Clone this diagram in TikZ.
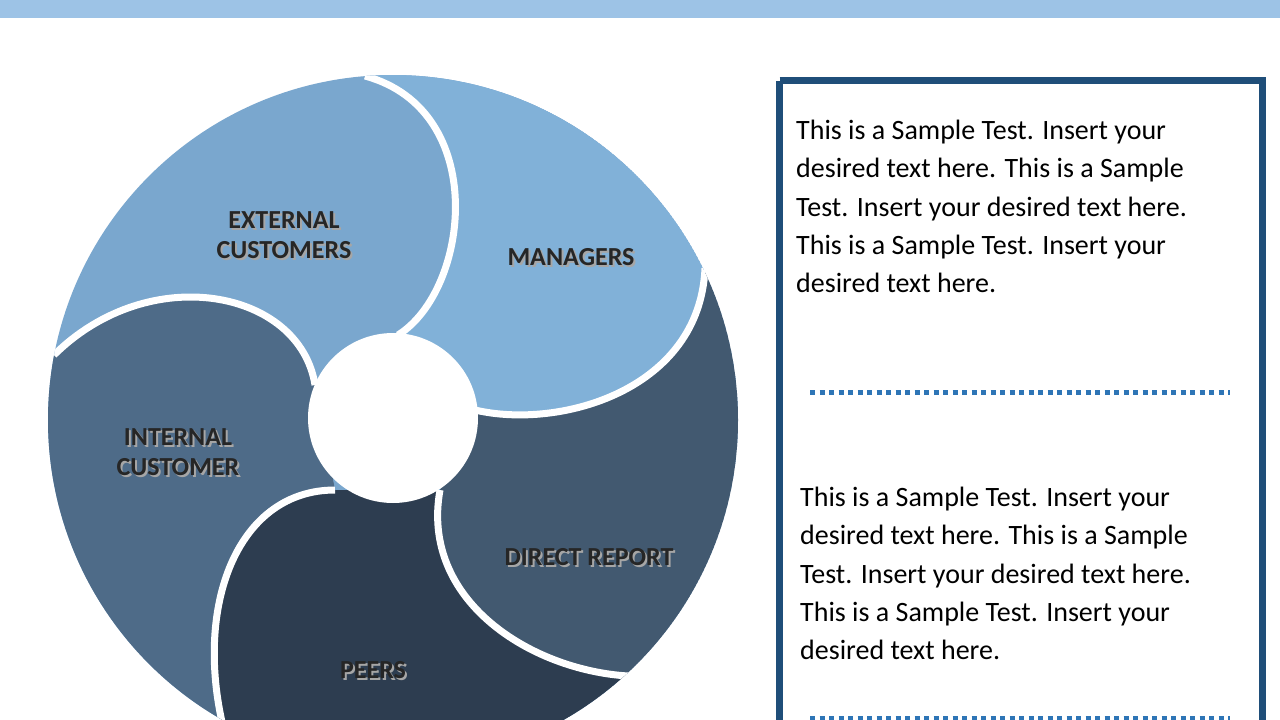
\documentclass[tikz,border=0pt]{standalone}
\usepackage{fontspec}
\setmainfont{Carlito}
\begin{document}
\begin{tikzpicture}[x=1pt,y=-1pt,
  lbl/.style={font=\bfseries\fontsize{26}{30}\selectfont,align=center,text=black!85},
  shd/.style={font=\bfseries\fontsize{26}{30}\selectfont,align=center,text=black!35},
  body/.style={font=\fontsize{28}{38.3}\selectfont,align=left,anchor=north west,inner sep=0pt,text=black},
  sep/.style={draw=dotblue,line width=5pt,dash pattern=on 5pt off 4.5pt}]
\definecolor{topbar}{RGB}{157,195,230}
\definecolor{cExt}{RGB}{122,167,206}
\definecolor{cMan}{RGB}{129,177,216}
\definecolor{cDir}{RGB}{66,89,112}
\definecolor{cPeer}{RGB}{45,61,80}
\definecolor{cInt}{RGB}{78,107,136}
\definecolor{frame}{RGB}{31,78,121}
\definecolor{dotblue}{RGB}{46,117,182}
\useasboundingbox (0,0) rectangle (1280,720);
\fill[white] (0,0) rectangle (1280,720);
\fill[topbar] (0,0) rectangle (1280,18);
% pinwheel
\begin{scope}
\clip (393,420) circle (345);
\fill[cExt] (393,420) circle (345);
% Managers: curve1 then curve2 reversed
\fill[cMan] (398,335) .. controls (470,290) and (490,110) .. (365,76)
  -- (600,-100) -- (900,100) -- (705,268)
  .. controls (700,390) and (560,430) .. (475,410) -- cycle;
% Direct report: curve2 then curve3 reversed
\fill[cDir] (475,410) .. controls (560,430) and (700,390) .. (705,268)
  -- (900,100) -- (1000,800) -- (628,676)
  .. controls (530,670) and (420,600) .. (440,490) -- cycle;
% Peers: curve3 then curve4 reversed
\fill[cPeer] (440,490) .. controls (420,600) and (530,670) .. (628,676)
  -- (1000,800) -- (200,900) -- (222,722)
  .. controls (195,600) and (240,490) .. (335,490) -- cycle;
% Internal: curve4 then curve5 reversed
\fill[cInt] (335,490) .. controls (240,490) and (195,600) .. (222,722)
  -- (200,900) -- (-100,700) -- (54,355)
  .. controls (150,260) and (300,290) .. (315,385) -- cycle;
\begin{scope}[draw=white,line width=7pt]
\draw (398,335) .. controls (470,290) and (490,110) .. (365,76);
\draw (475,410) .. controls (560,430) and (700,390) .. (705,268);
\draw (440,490) .. controls (420,600) and (530,670) .. (628,676);
\draw (335,490) .. controls (240,490) and (195,600) .. (222,722);
\draw (315,385) .. controls (300,290) and (150,260) .. (54,355);
\end{scope}
\end{scope}
\fill[white] (393,418) circle (85);
% labels
\node[shd] at (286,237) {EXTERNAL\\CUSTOMERS};
\node[lbl] (ext) at (284,235) {EXTERNAL\\CUSTOMERS};
\node[shd] at (573,259) {MANAGERS};
\node[lbl] (man) at (571,257) {MANAGERS};
\node[shd] at (180,454) {INTERNAL\\CUSTOMER};
\node[lbl] (int) at (178,452) {INTERNAL\\CUSTOMER};
\node[shd] at (591,559) {DIRECT REPORT};
\node[lbl] (dir) at (589,557) {DIRECT REPORT};
\node[shd] at (375,672) {PEERS};
\node[lbl] (peer) at (373,670) {PEERS};
% right panel
\draw[frame,line width=7pt] (779.5,80.5) -- (1262.5,80.5) -- (1262.5,730) (779.5,80.5) -- (779.5,730);
\node[body] (t1) at (796,120) {This is a Sample Test. Insert your\\desired text here. This is a Sample\\Test. Insert your desired text here.\\This is a Sample Test. Insert your\\desired text here.};
\node[body] (t2) at (800,487) {This is a Sample Test. Insert your\\desired text here. This is a Sample\\Test. Insert your desired text here.\\This is a Sample Test. Insert your\\desired text here.};
\draw[sep] (810,392) -- (1230,392);
\draw[sep] (810,718) -- (1230,718);
\end{tikzpicture}
\end{document}
